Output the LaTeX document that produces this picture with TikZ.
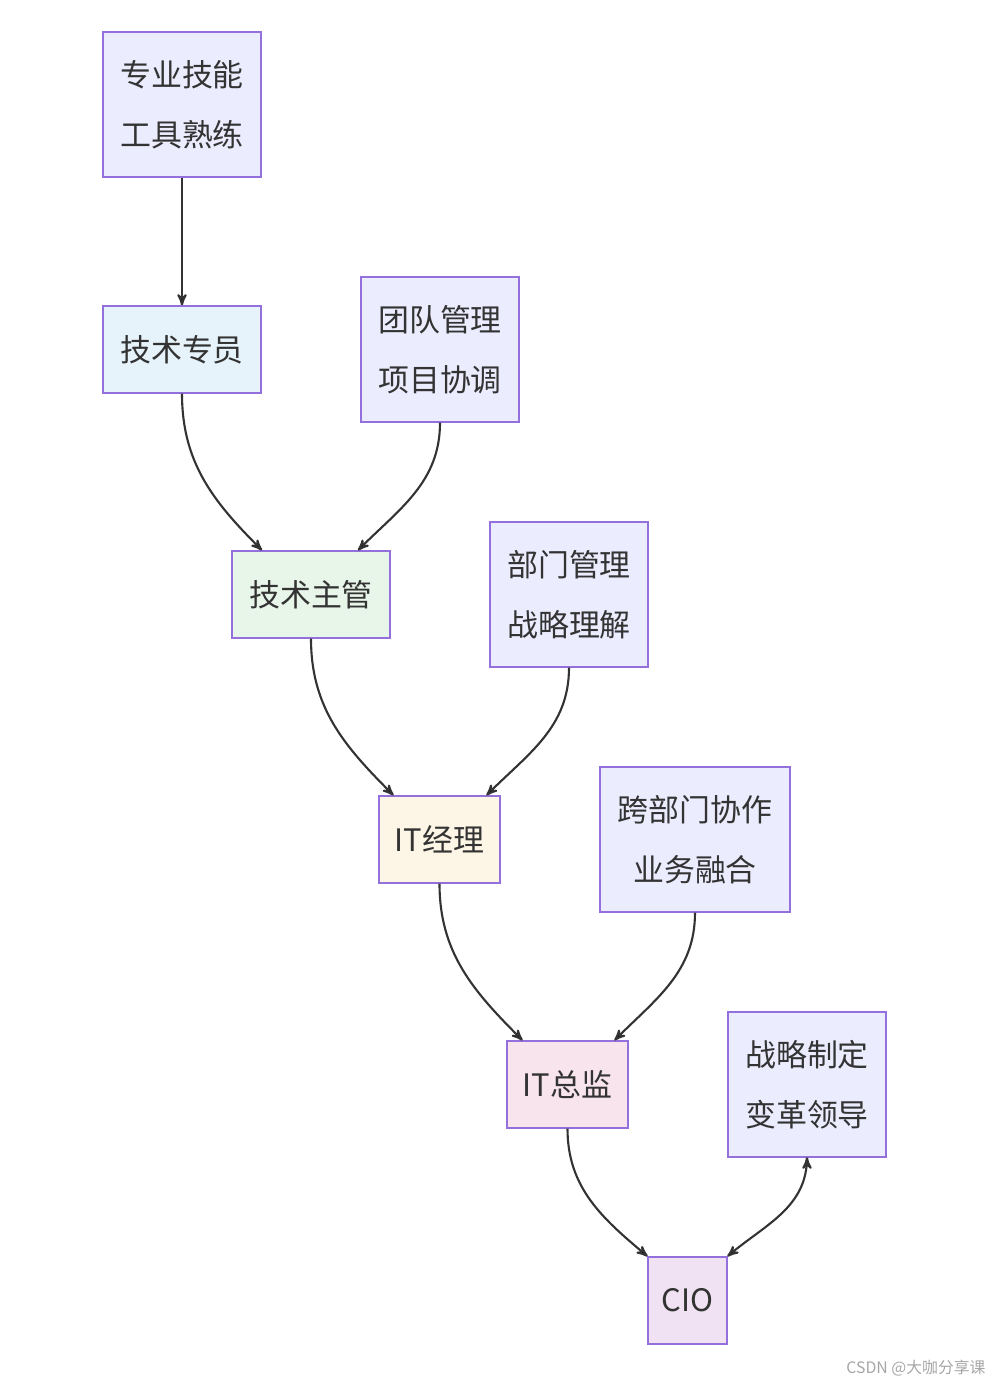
\documentclass[tikz,border=0pt]{standalone}
\usepackage{fontspec}
\setmainfont{Noto Sans CJK SC}
\usetikzlibrary{positioning, arrows}
\definecolor{boxline}{HTML}{9370DB}
\definecolor{lav}{HTML}{ECECFF}
\definecolor{sky}{HTML}{E6F3FB}
\definecolor{mint}{HTML}{E8F5E9}
\definecolor{cream}{HTML}{FDF5E6}
\definecolor{rose}{HTML}{F8E4EC}
\definecolor{plum}{HTML}{F0E2F2}
\begin{document}
\begin{tikzpicture}[x=0.02cm,y=-0.02cm,->,>=stealth',thick,
                    step node/.style={draw=boxline,fill=lav,minimum height=1.74cm,inner sep=0pt,
                                      font=\fontsize{17.6}{34}\selectfont,align=center,text=black!80},
                    skill node/.style={step node,minimum width=3.16cm,minimum height=2.9cm},
                    link/.style={draw=black!80,line width=1.2pt}]
    \useasboundingbox (0,0) rectangle (996,1386);

      \node[skill node] (skills) at (182,104.5) {专业技能\\工具熟练};
      \node[step node,fill=sky,minimum width=3.16cm] (spec) at (182,349.5) {技术专员};
      \node[skill node] (team) at (440,349.5) {团队管理\\项目协调};
      \node[step node,fill=mint,minimum width=3.16cm] (lead) at (311,594.5) {技术主管};
      \node[skill node] (dept) at (569,594.5) {部门管理\\战略理解};
      \node[step node,fill=cream,minimum width=2.42cm] (mgr) at (439.5,839.5) {IT经理};
      \node[skill node,minimum width=3.8cm] (cross) at (695,839.5) {跨部门协作\\业务融合};
      \node[step node,fill=rose,minimum width=2.42cm] (dir) at (567.5,1084.5) {IT总监};
      \node[skill node] (strat) at (807,1084.5) {战略制定\\变革领导};
      \node[step node,fill=plum,minimum width=1.58cm] (cio) at (687.5,1300.5) {CIO};

      \path[link]
       (skills) edge (spec)
       (spec.south) edge[out=-90,in=135] ([xshift=-0.98cm]lead.north)
       (team.south) edge[out=-90,in=45] ([xshift=0.94cm]lead.north)
       (lead.south) edge[out=-90,in=135] ([xshift=-0.92cm]mgr.north)
       (dept.south) edge[out=-90,in=45] ([xshift=0.94cm]mgr.north)
       (mgr.south) edge[out=-90,in=135] ([xshift=-0.9cm]dir.north)
       (cross.south) edge[out=-90,in=45] ([xshift=0.94cm]dir.north)
       (dir.south) edge[out=-90,in=140] ([xshift=-0.8cm]cio.north)
       (strat.south) edge[out=-90,in=40] ([xshift=0.8cm]cio.north);

      \node[text=black!35,font=\fontsize{9}{11}\selectfont,anchor=east] (mark) at (992,1368) {CSDN @大咖分享课};
\end{tikzpicture}
\end{document}
